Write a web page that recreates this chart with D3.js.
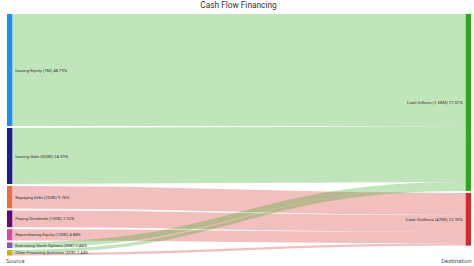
<!DOCTYPE html>
<html>
<head>
<meta charset="utf-8">
<script src="https://cdn.jsdelivr.net/npm/d3@7"></script>
<style>
  html, body { margin: 0; padding: 0; background: #fff; }
  svg { display: block; }
  text { font-family: Roboto, "Noto Sans", sans-serif; }
</style>
</head>
<body>
<svg id="chart" width="474" height="266"></svg>
<script>
// ---- data ----
const title = "Cash Flow Financing";
const sources = ["Issuing Equity", "Issuing Debt", "Repaying Debt", "Paying Dividends",
                 "Repurchasing Equity", "Exercising Stock Options", "Other Financing Activities"];
const sourceValueText = ["1M", "500K", "200K", "150K", "100K", "50K", "50K"];
const sourcePctText = ["48.79%", "24.39%", "9.76%", "7.32%", "4.88%", "2.44%", "2.44%"];
const sourceColors = ["#1e8ff0", "#1c1c8e", "#e8703e", "#5c0c7c", "#d948a8", "#7b55d6", "#d4b00a"];

const destinations = ["Cash Inflows", "Cash Outflows"];
const destValueText = ["1.58M", "470K"];
const destPctText = ["77.07%", "22.93%"];
const destColors = ["#2ea81e", "#d42a2a"];

// links: source index -> destination index, value
const linkSource = [0, 1, 2, 3, 4, 5, 6, 6];
const linkTarget = [0, 0, 1, 1, 1, 0, 0, 1];
const linkValue  = [1000000, 500000, 200000, 150000, 100000, 50000, 30000, 20000];

const columnLabels = ["Source", "Destination"];

// ---- layout ----
const plotTop = 14, plotBottom = 255.6;
const pad = 2;
const nodeW = 5.3;
const leftX0 = 7, rightX0 = 465.7;

const sourceVals = sources.map((s, i) => d3.sum(linkValue.filter((v, j) => linkSource[j] === i)));
const destVals = destinations.map((s, i) => d3.sum(linkValue.filter((v, j) => linkTarget[j] === i)));
const total = d3.sum(sourceVals);

const avail = (plotBottom - plotTop) - pad * (sources.length - 1);
const h = d3.scaleLinear().domain([0, total]).range([0, avail]);

function stack(vals) {
  let y = plotTop;
  return vals.map(v => { const n = {y0: y, y1: y + h(v)}; y = n.y1 + pad; return n; });
}
const sNodes = stack(sourceVals).map((n, i) => Object.assign(n, {x0: leftX0, x1: leftX0 + nodeW, i}));
const dNodes = stack(destVals).map((n, i) => Object.assign(n, {x0: rightX0, x1: rightX0 + nodeW, i}));

// link ordering: at source by target order, at target by source order
const links = linkValue.map((v, k) => ({k, s: linkSource[k], t: linkTarget[k], v, w: h(v)}));
sNodes.forEach((n, i) => {
  let y = n.y0;
  links.filter(l => l.s === i).sort((a, b) => a.t - b.t).forEach(l => { l.sy = y + l.w / 2; y += l.w; });
});
dNodes.forEach((n, i) => {
  let y = n.y0;
  links.filter(l => l.t === i).sort((a, b) => a.s - b.s).forEach(l => { l.ty = y + l.w / 2; y += l.w; });
});

const svg = d3.select("#chart");

// title
svg.append("text").attr("x", 238.5).attr("y", 8).attr("text-anchor", "middle")
  .attr("font-size", 8.3).attr("fill", "#333").text(title);

// links
const linkGen = d3.linkHorizontal().x(d => d[0]).y(d => d[1]);
svg.append("g").selectAll("path").data(links).join("path")
  .attr("d", l => linkGen({source: [leftX0 + nodeW, l.sy], target: [rightX0, l.ty]}))
  .attr("fill", "none")
  .attr("stroke", l => destColors[l.t])
  .attr("stroke-opacity", 0.3)
  .attr("stroke-width", l => l.w);

// nodes
svg.append("g").selectAll("rect").data(sNodes).join("rect")
  .attr("x", d => d.x0).attr("y", d => d.y0)
  .attr("width", d => d.x1 - d.x0).attr("height", d => d.y1 - d.y0)
  .attr("fill", d => sourceColors[d.i]);
svg.append("g").selectAll("rect").data(dNodes).join("rect")
  .attr("x", d => d.x0).attr("y", d => d.y0)
  .attr("width", d => d.x1 - d.x0).attr("height", d => d.y1 - d.y0)
  .attr("fill", d => destColors[d.i]);

// labels
svg.append("g").selectAll("text").data(sNodes).join("text")
  .attr("x", d => d.x1 + 3).attr("y", d => (d.y0 + d.y1) / 2)
  .attr("dy", "0.35em").attr("font-size", 4.3).attr("fill", "#333")
  .text(d => `${sources[d.i]} (${sourceValueText[d.i]}) ${sourcePctText[d.i]}`);
svg.append("g").selectAll("text").data(dNodes).join("text")
  .attr("x", d => d.x0 - 3).attr("y", d => (d.y0 + d.y1) / 2)
  .attr("dy", "0.35em").attr("font-size", 4.3).attr("fill", "#333").attr("text-anchor", "end")
  .text(d => `${destinations[d.i]} (${destValueText[d.i]}) ${destPctText[d.i]}`);

// column labels
svg.append("text").attr("x", 6).attr("y", 262.5).attr("font-size", 6).attr("fill", "#555")
  .text(columnLabels[0]);
svg.append("text").attr("x", 471.5).attr("y", 263).attr("font-size", 6).attr("fill", "#555")
  .attr("text-anchor", "end").text(columnLabels[1]);
</script>
</body>
</html>
